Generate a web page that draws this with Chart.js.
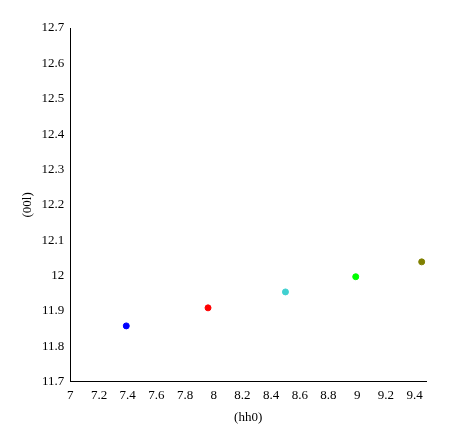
<!DOCTYPE html>
<html>
<head>
<script src="https://cdn.jsdelivr.net/npm/chart.js@4"></script>
<style>
  html, body { margin: 0; padding: 0; background: #fff; }
  #wrap { width: 468px; height: 437px; }
</style>
</head>
<body>
<div id="wrap"><canvas id="myChart"></canvas></div>
<script>
// (hh0) and (00l) positions
var xValues = [7.39, 7.96, 8.50, 8.99, 9.45];
var yValues = [11.858, 11.909, 11.954, 11.997, 12.039];
var pointColors = ["#0000ff", "#ff0000", "#40d0d0", "#00ff00", "#808000"];
var xTicks = [7, 7.2, 7.4, 7.6, 7.8, 8, 8.2, 8.4, 8.6, 8.8, 9, 9.2, 9.4];

var points = [];
for (var i = 0; i < xValues.length; i++) {
  points.push({x: xValues[i], y: yValues[i]});
}

Chart.defaults.font.family = "'Liberation Serif', 'DejaVu Serif', serif";
Chart.defaults.color = "#000";

new Chart("myChart", {
  type: "scatter",
  data: {
    datasets: [{
      data: points,
      backgroundColor: pointColors,
      borderColor: pointColors,
      pointRadius: 3,
      pointHoverRadius: 3
    }]
  },
  options: {
    responsive: true,
    maintainAspectRatio: false,
    animation: false,
    layout: { padding: { top: 28, right: 42, left: 16, bottom: 8 } },
    plugins: { legend: { display: false }, tooltip: { enabled: false } },
    scales: {
      x: {
        min: 7, max: 9.48,
        afterBuildTicks: function(axis) {
          axis.ticks = xTicks.map(function(v) { return {value: v}; });
        },
        grid: { display: false, drawTicks: true, tickLength: 4, tickColor: "#000" },
        border: { color: "#000" },
        ticks: { font: { size: 13 }, padding: 2, autoSkip: false, maxRotation: 0,
          callback: function(v) { return Math.round(v * 10) / 10; } },
        title: { display: true, text: "(hh0)", font: { size: 13 } }
      },
      y: {
        min: 11.7, max: 12.7,
        grid: { display: false, drawTicks: true, tickLength: 4, tickColor: "#000" },
        border: { color: "#000" },
        ticks: { stepSize: 0.1, font: { size: 13 }, padding: 2,
          callback: function(v) { return Math.round(v * 10) / 10; } },
        title: { display: true, text: "(00l)", font: { size: 13 } }
      }
    }
  }
});
</script>
</body>
</html>
